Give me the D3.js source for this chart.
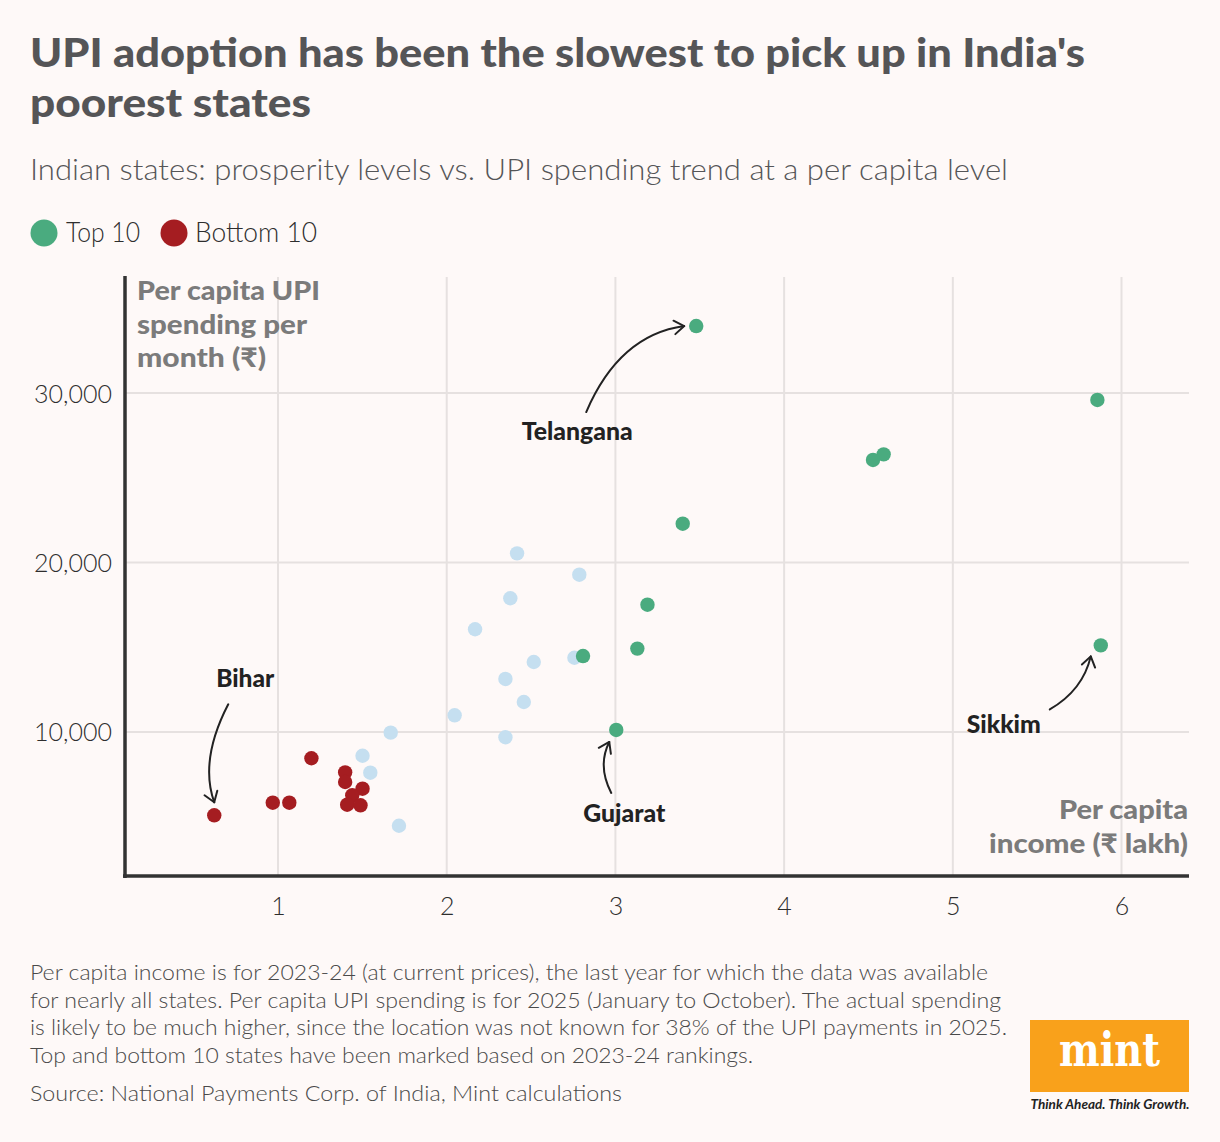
<!DOCTYPE html>
<html>
<head>
<meta charset="utf-8">
<script src="https://cdn.jsdelivr.net/npm/d3@7"></script>
<style>
  html, body { margin: 0; padding: 0; background: #fef9f8; }
  svg { display: block; }
</style>
</head>
<body>
<svg id="chart" width="1220" height="1142"></svg>
<script>
// ---------------- DATA ----------------
// Top 10 states (per capita income in ₹ lakh, per capita UPI spending per month in ₹)
const topNames  = ["Telangana","S1","S2","S3","S4","S5","S6","S7","Sikkim","Gujarat"];
const topIncome = [3.479, 5.857, 4.590, 4.527, 3.399, 3.190, 3.130, 2.808, 5.877, 3.005];
const topUpi    = [33950, 29590, 26380, 26050, 22290, 17510, 14920, 14480, 15110, 10120];

// Bottom 10 states
const bottomNames  = ["Bihar","B1","B2","B3","B4","B5","B6","B7","B8","B9"];
const bottomIncome = [0.622, 0.969, 1.067, 1.198, 1.398, 1.398, 1.501, 1.440, 1.410, 1.489];
const bottomUpi    = [5085, 5830, 5830, 8450, 7620, 7050, 6655, 6265, 5710, 5675];

// Other states
const otherIncome = [2.417, 2.786, 2.377, 2.168, 2.757, 2.516, 2.348, 2.457, 2.047, 2.348, 1.668, 1.501, 1.547, 1.717];
const otherUpi    = [20540, 19280, 17890, 16060, 14380, 14130, 13130, 11770, 10985, 9690, 9960, 8600, 7600, 4470];

const xTicks = [1, 2, 3, 4, 5, 6];
const yTicks = [10000, 20000, 30000];

const titleLines = ["UPI adoption has been the slowest to pick up in India's", "poorest states"];
const subtitle = "Indian states: prosperity levels vs. UPI spending trend at a per capita level";
const legendItems = ["Top 10", "Bottom 10"];
const yTitleLines = ["Per capita UPI", "spending per", "month (₹)"];
const xTitleLines = ["Per capita", "income (₹ lakh)"];
const noteLines = [
  "Per capita income is for 2023-24 (at current prices), the last year for which the data was available",
  "for nearly all states. Per capita UPI spending is for 2025 (January to October). The actual spending",
  "is likely to be much higher, since the location was not known for 38% of the UPI payments in 2025.",
  "Top and bottom 10 states have been marked based on 2023-24 rankings."
];
const sourceLine = "Source: National Payments Corp. of India, Mint calculations";

// Annotations: which point, label, offsets relative to point
const annotations = [
  { group: "top", idx: 0, label: "Telangana", lx: -119, ly: 114, lw: 111, start: [-110, 86], ctrl: [-77, 9], end: [-12, 0] },
  { group: "top", idx: 8, label: "Sikkim", lx: -97, ly: 88, lw: 74, start: [-51, 64], ctrl: [-18, 45], end: [-10, 11] },
  { group: "top", idx: 9, label: "Gujarat", lx: 8, ly: 92, lw: 82, start: [-5, 63], ctrl: [-19, 36], end: [-7, 12] },
  { group: "bottom", idx: 0, label: "Bihar", lx: 31, ly: -128, lw: 58, start: [14, -111], ctrl: [-15, -55], end: [0, -13] }
];

// ---------------- STYLE ----------------
const C = {
  bg: "#fef9f8", grid: "#e6e1e0", axis: "#333333",
  green: "#4aab7f", red: "#a51d21", blue: "#c5dff0",
  title: "#555557", text: "#2e2e2e", axisTitle: "#7b7b7b", note: "#4a4a4a", label: "#222222"
};
const SANS = "Lato, 'Noto Sans', sans-serif";

const svg = d3.select("#chart");
svg.append("rect").attr("width", 1220).attr("height", 1142).attr("fill", C.bg);

function fit(sel, w) {
  const n = sel.node().getComputedTextLength();
  if (n > 0 && Math.abs(n - w) / w > 0.005) {
    sel.attr("textLength", w).attr("lengthAdjust", "spacingAndGlyphs");
  }
  return sel;
}

// ---------------- HEADER ----------------
const titleW = [1055, 281];
titleLines.forEach((t, i) => {
  fit(svg.append("text").attr("x", 30).attr("y", 67 + i * 50)
    .attr("font-family", SANS).attr("font-weight", 900).attr("font-size", 40)
    .attr("fill", C.title).text(t), titleW[i]);
});
fit(svg.append("text").attr("x", 30).attr("y", 180)
  .attr("font-family", SANS).attr("font-weight", 300).attr("font-size", 30)
  .attr("fill", C.title).text(subtitle), 978);

const legendX = [44, 174], legendTX = [66, 195], legendTW = [74, 122];
const legendColors = [C.green, C.red];
legendItems.forEach((t, i) => {
  svg.append("circle").attr("cx", legendX[i]).attr("cy", 233).attr("r", 13.5).attr("fill", legendColors[i]);
  fit(svg.append("text").attr("x", legendTX[i]).attr("y", 242)
    .attr("font-family", SANS).attr("font-weight", 300).attr("font-size", 27)
    .attr("fill", C.text).text(t), legendTW[i]);
});

// ---------------- SCALES ----------------
const x = d3.scaleLinear().domain([0.093, 6.4]).range([125, 1189]);
const y = d3.scaleLinear().domain([1504, 36844]).range([876, 277]);

// grid
const g = svg.append("g");
g.selectAll(".vg").data(xTicks).join("line")
  .attr("x1", d => x(d)).attr("x2", d => x(d))
  .attr("y1", y.range()[1]).attr("y2", y.range()[0])
  .attr("stroke", C.grid).attr("stroke-width", 2);
g.selectAll(".hg").data(yTicks).join("line")
  .attr("class", "hg")
  .attr("x1", x.range()[0]).attr("x2", x.range()[1])
  .attr("y1", d => y(d)).attr("y2", d => y(d))
  .attr("stroke", C.grid).attr("stroke-width", 2);

// axes via d3 axis
const xAxis = d3.axisBottom(x).tickValues(xTicks).tickSize(0).tickPadding(0).tickFormat(d3.format("d"));
const xa = svg.append("g").attr("transform", `translate(0,${y.range()[0]})`).call(xAxis);
xa.select(".domain").remove();
xa.selectAll("text").attr("font-family", SANS).attr("font-weight", 300).attr("font-size", 25)
  .attr("fill", C.text).attr("dy", null).attr("y", 39);

const yAxis = d3.axisLeft(y).tickValues(yTicks).tickSize(0).tickPadding(0).tickFormat(d3.format(","));
const ya = svg.append("g").attr("transform", `translate(112,0)`).call(yAxis);
ya.select(".domain").remove();
ya.selectAll("text").attr("font-family", SANS).attr("font-weight", 300).attr("font-size", 25)
  .attr("fill", C.text).attr("dy", "0.36em").attr("x", 0);

// axis lines
svg.append("line").attr("x1", x.range()[0]).attr("x2", x.range()[0])
  .attr("y1", y.range()[1] - 1).attr("y2", y.range()[0] + 2)
  .attr("stroke", C.axis).attr("stroke-width", 3.5);
svg.append("line").attr("x1", x.range()[0] - 2).attr("x2", x.range()[1])
  .attr("y1", y.range()[0]).attr("y2", y.range()[0])
  .attr("stroke", C.axis).attr("stroke-width", 3.5);

// axis titles
const yTW = [183, 170, 129];
yTitleLines.forEach((t, i) => {
  fit(svg.append("text").attr("x", 137).attr("y", 300 + i * 33.5)
    .attr("font-family", SANS).attr("font-weight", 900).attr("font-size", 27)
    .attr("fill", C.axisTitle).text(t), yTW[i]);
});
const xTW = [129, 199];
xTitleLines.forEach((t, i) => {
  fit(svg.append("text").attr("x", 1188).attr("y", 819 + i * 33.5).attr("text-anchor", "end")
    .attr("font-family", SANS).attr("font-weight", 900).attr("font-size", 27)
    .attr("fill", C.axisTitle).text(t), xTW[i]);
});

// ---------------- POINTS ----------------
const R = 7.2;
const others = otherIncome.map((v, i) => ({ x: v, y: otherUpi[i] }));
const bottoms = bottomIncome.map((v, i) => ({ x: v, y: bottomUpi[i], name: bottomNames[i] }));
const tops = topIncome.map((v, i) => ({ x: v, y: topUpi[i], name: topNames[i] }));

svg.append("g").selectAll("circle").data(others).join("circle")
  .attr("cx", d => x(d.x)).attr("cy", d => y(d.y)).attr("r", R).attr("fill", C.blue);
svg.append("g").selectAll("circle").data(bottoms).join("circle")
  .attr("cx", d => x(d.x)).attr("cy", d => y(d.y)).attr("r", R).attr("fill", C.red);
svg.append("g").selectAll("circle").data(tops).join("circle")
  .attr("cx", d => x(d.x)).attr("cy", d => y(d.y)).attr("r", R).attr("fill", C.green);

// ---------------- ANNOTATIONS ----------------
const ann = svg.append("g");
annotations.forEach(a => {
  const d = a.group === "top" ? tops[a.idx] : bottoms[a.idx];
  const px = x(d.x), py = y(d.y);
  const s = [px + a.start[0], py + a.start[1]];
  const c = [px + a.ctrl[0], py + a.ctrl[1]];
  const e = [px + a.end[0], py + a.end[1]];
  const p = d3.path();
  p.moveTo(s[0], s[1]);
  p.quadraticCurveTo(c[0], c[1], e[0], e[1]);
  ann.append("path").attr("d", p.toString()).attr("fill", "none")
    .attr("stroke", C.label).attr("stroke-width", 2).attr("stroke-linecap", "round");
  // arrow head
  const ang = Math.atan2(e[1] - c[1], e[0] - c[0]);
  const L = 12, spread = 0.6;
  const h = d3.path();
  h.moveTo(e[0] - L * Math.cos(ang - spread), e[1] - L * Math.sin(ang - spread));
  h.lineTo(e[0], e[1]);
  h.lineTo(e[0] - L * Math.cos(ang + spread), e[1] - L * Math.sin(ang + spread));
  ann.append("path").attr("d", h.toString()).attr("fill", "none")
    .attr("stroke", C.label).attr("stroke-width", 2).attr("stroke-linecap", "round").attr("stroke-linejoin", "round");
  fit(ann.append("text").attr("x", px + a.lx).attr("y", py + a.ly).attr("text-anchor", "middle")
    .attr("font-family", SANS).attr("font-weight", 900).attr("font-size", 24)
    .attr("fill", C.label).text(a.label), a.lw);
});

// ---------------- FOOTER ----------------
const noteW = [958, 971, 977, 723];
noteLines.forEach((t, i) => {
  fit(svg.append("text").attr("x", 30).attr("y", 980 + i * 27.7)
    .attr("font-family", SANS).attr("font-weight", 300).attr("font-size", 21.5)
    .attr("fill", C.note).text(t), noteW[i]);
});
fit(svg.append("text").attr("x", 30).attr("y", 1101)
  .attr("font-family", SANS).attr("font-weight", 300).attr("font-size", 21.5)
  .attr("fill", C.note).text(sourceLine), 592);

// logo
svg.append("rect").attr("x", 1030).attr("y", 1020).attr("width", 159).attr("height", 72).attr("fill", "#f9a11b");
fit(svg.append("text").attr("x", 1109.5).attr("y", 1066).attr("text-anchor", "middle")
  .attr("font-family", "'DejaVu Serif', 'Liberation Serif', serif").attr("font-weight", 700).attr("font-size", 46)
  .attr("fill", "#ffffff").text("mint"), 101);
fit(svg.append("text").attr("x", 1030.5).attr("y", 1109)
  .attr("font-family", SANS).attr("font-weight", 700).attr("font-style", "italic").attr("font-size", 13)
  .attr("fill", "#222222").text("Think Ahead. Think Growth."), 159);
</script>
</body>
</html>
